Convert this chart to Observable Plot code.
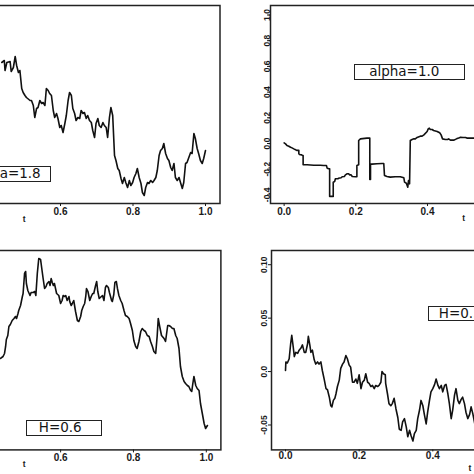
<!DOCTYPE html>
<html>
<head>
<meta charset="utf-8">
<script src="https://cdn.jsdelivr.net/npm/d3@7"></script>
<script src="https://cdn.jsdelivr.net/npm/@observablehq/plot@0.6"></script>
<style>
html, body { margin: 0; padding: 0; background: #fff; }
#wrap { position: relative; width: 474px; height: 474px; overflow: hidden; background: #fff; }
#wrap svg { position: absolute; max-width: none; }
.box { position: absolute; box-sizing: border-box; border: 1.5px solid #222; background: #fff;
       font-family: "DejaVu Sans", sans-serif; font-size: 13.5px; line-height: 1; color: #151515;
       white-space: nowrap; display: flex; align-items: center; }
</style>
</head>
<body>
<div id="wrap"></div>
<script>
// ---- Top-left: alpha = 1.8 (stable process, right part of the panel) ----
const tTL = [0.438,0.445,0.447,0.452,0.461,0.464,0.470,0.475,0.479,0.484,
  0.488,0.493,0.497,0.502,0.506,0.516,0.520,0.525,0.529,0.534,
  0.538,0.543,0.548,0.552,0.557,0.561,0.566,0.570,0.575,0.580,
  0.584,0.589,0.593,0.598,0.602,0.607,0.612,0.616,0.621,0.625,
  0.630,0.634,0.639,0.643,0.648,0.653,0.657,0.662,0.666,0.671,
  0.675,0.680,0.685,0.689,0.694,0.698,0.703,0.707,0.712,0.717,
  0.721,0.726,0.730,0.735,0.739,0.744,0.749,0.753,0.758,0.762,
  0.767,0.771,0.776,0.780,0.785,0.790,0.794,0.799,0.803,0.808,
  0.812,0.817,0.822,0.826,0.831,0.835,0.840,0.844,0.849,0.854,
  0.858,0.863,0.867,0.872,0.876,0.881,0.885,0.890,0.895,0.899,
  0.904,0.908,0.913,0.917,0.922,0.927,0.931,0.936,0.940,0.945,
  0.949,0.954,0.959,0.963,0.968,0.972,0.977,0.981,0.986,0.991,
  0.995,1.000];
const vTL = [-0.02,0.00,-0.10,-0.02,-0.01,-0.11,-0.07,0.04,-0.05,-0.12,
  -0.10,-0.28,-0.32,-0.35,-0.37,-0.40,-0.40,-0.45,-0.57,-0.48,
  -0.47,-0.40,-0.43,-0.42,-0.45,-0.28,-0.30,-0.33,-0.35,-0.50,
  -0.57,-0.53,-0.58,-0.67,-0.65,-0.72,-0.63,-0.55,-0.40,-0.32,
  -0.35,-0.48,-0.53,-0.60,-0.57,-0.58,-0.50,-0.53,-0.52,-0.58,
  -0.55,-0.60,-0.62,-0.70,-0.77,-0.63,-0.58,-0.65,-0.67,-0.62,
  -0.65,-0.67,-0.77,-0.57,-0.47,-0.55,-0.95,-1.00,-1.08,-1.10,
  -1.18,-1.23,-1.17,-1.22,-1.27,-1.20,-1.25,-1.22,-1.17,-1.13,
  -1.08,-1.17,-1.23,-1.32,-1.35,-1.27,-1.22,-1.23,-1.20,-1.22,
  -1.20,-1.17,-1.10,-0.95,-0.90,-0.88,-0.83,-0.93,-0.98,-1.00,
  -1.07,-1.10,-1.03,-1.17,-1.20,-1.17,-1.22,-1.28,-1.22,-1.03,
  -1.02,-0.97,-0.92,-0.93,-0.73,-0.78,-0.88,-0.93,-1.00,-1.03,
  -0.98,-0.90];

// ---- Top-right: alpha = 1.0 (jumpy, step-like path) ----
const tTR = [0.000,0.004,0.008,0.013,0.018,0.022,0.027,0.032,0.036,0.041,
  0.041,0.045,0.048,0.051,0.053,0.053,0.064,0.083,0.101,0.110,
  0.118,0.120,0.125,0.127,0.127,0.137,0.137,0.141,0.143,0.150,
  0.152,0.159,0.162,0.168,0.171,0.176,0.180,0.183,0.187,0.190,
  0.199,0.203,0.203,0.208,0.208,0.213,0.231,0.239,0.239,0.241,
  0.241,0.245,0.259,0.273,0.278,0.280,0.287,0.296,0.310,0.324,
  0.334,0.336,0.341,0.345,0.347,0.350,0.352,0.357,0.362,0.366,
  0.371,0.380,0.385,0.390,0.399,0.402,0.405,0.408,0.413,0.417,
  0.427,0.434,0.438,0.442,0.450,0.456,0.459,0.464,0.473,0.481,
  0.487,0.492,0.499,0.506,0.510,0.520,0.529,0.540];
const vTR = [0.005,-0.003,-0.016,-0.021,-0.029,-0.034,-0.042,-0.049,-0.054,-0.054,
  -0.080,-0.088,-0.088,-0.093,-0.093,-0.166,-0.166,-0.169,-0.169,-0.171,
  -0.171,-0.192,-0.197,-0.197,-0.412,-0.412,-0.301,-0.296,-0.275,-0.275,
  -0.270,-0.267,-0.259,-0.257,-0.244,-0.236,-0.236,-0.244,-0.244,-0.257,
  -0.259,-0.259,-0.171,-0.166,0.023,0.036,0.042,0.042,-0.280,-0.280,
  -0.161,-0.161,-0.158,-0.156,-0.156,-0.249,-0.257,-0.262,-0.259,-0.259,
  -0.267,-0.301,-0.309,-0.340,-0.288,-0.314,0.023,0.031,0.036,0.036,
  0.047,0.057,0.057,0.067,0.093,0.114,0.119,0.109,0.109,0.101,
  0.093,0.083,0.067,0.036,0.031,0.031,0.036,0.026,0.026,0.036,
  0.042,0.049,0.047,0.047,0.042,0.042,0.042,0.042];

// ---- Bottom-left: H = 0.6 (fractional Brownian motion, right part) ----
const tBL = [0.435,0.442,0.446,0.449,0.451,0.455,0.458,0.462,0.467,0.472,
  0.476,0.479,0.483,0.485,0.490,0.495,0.497,0.501,0.504,0.506,
  0.510,0.516,0.519,0.525,0.529,0.532,0.536,0.540,0.545,0.549,
  0.552,0.556,0.560,0.563,0.568,0.571,0.574,0.577,0.580,0.583,
  0.589,0.595,0.600,0.604,0.607,0.611,0.614,0.618,0.623,0.625,
  0.629,0.632,0.636,0.641,0.646,0.650,0.655,0.658,0.662,0.666,
  0.669,0.671,0.675,0.680,0.684,0.688,0.691,0.696,0.699,0.702,
  0.706,0.712,0.715,0.719,0.723,0.726,0.731,0.734,0.740,0.742,
  0.746,0.749,0.753,0.756,0.760,0.765,0.769,0.774,0.778,0.783,
  0.788,0.792,0.797,0.801,0.806,0.810,0.815,0.820,0.824,0.829,
  0.833,0.838,0.843,0.847,0.852,0.856,0.861,0.865,0.868,0.872,
  0.877,0.884,0.888,0.891,0.894,0.897,0.902,0.907,0.911,0.916,
  0.920,0.925,0.929,0.934,0.939,0.943,0.948,0.952,0.957,0.960,
  0.963,0.966,0.971,0.975,0.980,0.984,0.989,0.994,0.998,1.003];
const vBL = [0.12,0.14,0.17,0.24,0.31,0.35,0.44,0.46,0.50,0.52,
  0.54,0.52,0.57,0.60,0.65,0.74,0.77,0.97,0.99,0.87,
  0.80,0.75,0.78,0.78,0.79,0.75,0.97,1.12,1.11,1.00,
  0.92,0.82,0.84,0.87,0.89,0.85,0.92,0.88,0.85,0.87,
  0.77,0.75,0.67,0.70,0.75,0.74,0.75,0.70,0.74,0.69,
  0.65,0.67,0.70,0.59,0.50,0.49,0.54,0.60,0.64,0.67,
  0.74,0.82,0.79,0.70,0.74,0.77,0.77,0.85,0.89,0.79,
  0.72,0.74,0.75,0.70,0.83,0.85,0.83,0.78,0.70,0.69,
  0.76,0.88,0.89,0.82,0.75,0.70,0.67,0.60,0.55,0.54,
  0.52,0.47,0.40,0.30,0.24,0.22,0.29,0.39,0.42,0.40,
  0.39,0.35,0.34,0.29,0.24,0.19,0.17,0.34,0.52,0.44,
  0.35,0.32,0.29,0.37,0.45,0.45,0.44,0.42,0.42,0.35,
  0.32,0.22,0.04,-0.06,-0.11,-0.13,-0.15,-0.16,-0.20,-0.21,
  -0.13,-0.06,-0.15,-0.18,-0.20,-0.33,-0.43,-0.53,-0.58,-0.55];

// ---- Bottom-right: H = 0.? (left part of the panel) ----
const tBR = [0.000,0.001,0.005,0.010,0.014,0.017,0.021,0.024,0.028,0.033,
  0.037,0.042,0.046,0.051,0.055,0.060,0.062,0.066,0.069,0.073,
  0.078,0.082,0.087,0.091,0.096,0.100,0.105,0.110,0.114,0.119,
  0.123,0.126,0.130,0.134,0.137,0.141,0.146,0.150,0.155,0.159,
  0.164,0.168,0.173,0.177,0.182,0.186,0.191,0.195,0.200,0.205,
  0.209,0.214,0.218,0.223,0.227,0.232,0.236,0.241,0.245,0.250,
  0.254,0.259,0.262,0.266,0.271,0.272,0.277,0.281,0.286,0.290,
  0.295,0.300,0.305,0.309,0.314,0.318,0.323,0.328,0.332,0.337,
  0.341,0.346,0.350,0.355,0.359,0.364,0.368,0.373,0.377,0.382,
  0.386,0.391,0.395,0.400,0.405,0.409,0.414,0.418,0.423,0.427,
  0.432,0.436,0.441,0.445,0.450,0.454,0.459,0.463,0.468,0.472,
  0.477,0.481,0.486,0.490,0.495,0.500,0.504,0.509,0.514];
const vBR = [0.001,0.009,0.008,0.012,0.026,0.034,0.023,0.014,0.018,0.017,
  0.020,0.022,0.025,0.018,0.018,0.026,0.033,0.025,0.018,0.020,
  0.011,0.007,0.009,0.007,0.009,0.001,-0.007,-0.016,-0.017,-0.024,
  -0.032,-0.033,-0.027,-0.025,-0.021,-0.014,-0.008,0.003,0.007,0.009,
  0.015,0.012,0.006,0.004,-0.010,-0.010,-0.007,-0.011,-0.003,-0.016,
  -0.010,-0.008,-0.002,-0.010,-0.011,-0.014,-0.013,-0.016,-0.013,-0.014,
  -0.013,-0.010,0.000,-0.002,-0.003,-0.011,-0.021,-0.030,-0.032,-0.030,
  -0.025,-0.035,-0.043,-0.054,-0.055,-0.047,-0.044,-0.052,-0.061,-0.055,
  -0.060,-0.065,-0.058,-0.055,-0.044,-0.036,-0.027,-0.032,-0.040,-0.049,
  -0.038,-0.027,-0.019,-0.016,-0.012,-0.007,-0.013,-0.016,-0.013,-0.019,
  -0.013,-0.012,-0.021,-0.030,-0.044,-0.036,-0.022,-0.016,-0.027,-0.030,
  -0.026,-0.024,-0.030,-0.038,-0.044,-0.040,-0.033,-0.040,-0.049];

// tick values and labels
const xTicksTL = [0.6, 0.8, 1.0];
const xTicksTR = [0.0, 0.2, 0.4];
const yTicksTR = [-0.4, -0.2, 0.0, 0.2, 0.4, 0.6, 0.8, 1.0];
const xTicksBL = [0.6, 0.8, 1.0];
const xTicksBR = [0.0, 0.2, 0.4];
const yTicksBR = [-0.05, 0.0, 0.05, 0.10];
const labels = {TL: "alpha=1.8", TR: "alpha=1.0", BL: "H=0.6", BR: "H=0.3"};
const axisTitle = "t";

const ML = 40, MR = 10, MT = 10, MB = 35;
const wrap = document.getElementById("wrap");

function panel(c) {
  const data = c.t.map((t, i) => ({t, v: c.v[i]}));
  const marks = [
    Plot.line(data, {x: "t", y: "v", stroke: "#111", strokeWidth: 1.6, strokeLinejoin: "round"}),
    Plot.frame({stroke: "#222", strokeWidth: 1.5}),
    Plot.axisX(c.xTicks, {anchor: "bottom", tickSize: c.xTickSize, tickPadding: c.xTickPad,
      tickFormat: d => d.toFixed(1), fontSize: 10, fontWeight: "bold", label: null}),
    Plot.text([axisTitle], {frameAnchor: "bottom", dy: c.tDy, fontSize: 8.5, fontWeight: "bold"})
  ];
  if (c.yTicks) {
    marks.push(Plot.axisY(c.yTicks, {anchor: "left", tickSize: 3, tickPadding: c.yTickPad, tickRotate: -90,
      tickFormat: c.yFormat, fontSize: 8.5, fontWeight: "bold", label: null}));
  }
  const svg = Plot.plot({
    width: ML + c.frameW + MR,
    height: MT + c.frameH + MB,
    marginLeft: ML, marginRight: MR, marginTop: MT, marginBottom: MB,
    x: {domain: c.xDomain},
    y: c.yTicks ? {domain: c.yDomain} : {domain: c.yDomain, axis: null},
    style: {fontFamily: "'Liberation Sans', Arial, sans-serif", color: "#1a1a1a", background: "transparent", maxWidth: "none"},
    marks
  });
  svg.style.left = (c.frameLeft - ML) + "px";
  svg.style.top = (c.frameTop - MT) + "px";
  wrap.appendChild(svg);
}

panel({t: tTL, v: vTL, xDomain: [-0.04, 1.04], yDomain: [-1.43, 0.55], xTicks: xTicksTL,
  frameLeft: -172, frameTop: 5, frameW: 391.5, frameH: 198, xTickSize: 3, xTickPad: 1, tDy: 18});
panel({t: tTR, v: vTR, xDomain: [-0.038, 1.04], yDomain: [-0.467, 1.074], xTicks: xTicksTR,
  yTicks: yTicksTR, yFormat: d => d.toFixed(1), yTickPad: -2,
  frameLeft: 270, frameTop: 5, frameW: 386.4, frameH: 198, xTickSize: 3, xTickPad: 1, tDy: 18});
panel({t: tBL, v: vBL, xDomain: [-0.04, 1.04], yDomain: [-0.794, 1.2], xTicks: xTicksBL,
  frameLeft: -173.1, frameTop: 250.3, frameW: 393.4, frameH: 199.4, xTickSize: 3, xTickPad: 1, tDy: 17.5});
panel({t: tBR, v: vBR, xDomain: [-0.038, 1.04], yDomain: [-0.0733, 0.1133], xTicks: xTicksBR,
  yTicks: yTicksBR, yFormat: d => (d === 0 ? "0.0" : d.toFixed(2)), yTickPad: 1.5,
  frameLeft: 270.5, frameTop: 250.3, frameW: 397, frameH: 199.4, xTickSize: 2, xTickPad: 0, tDy: 21});

function box(text, left, top, width, height, padLeft) {
  const b = document.createElement("div");
  b.className = "box";
  b.style.left = left + "px";
  b.style.top = top + "px";
  b.style.width = width + "px";
  b.style.height = height + "px";
  b.style.paddingLeft = padLeft + "px";
  b.textContent = text;
  wrap.appendChild(b);
}
box(labels.TL, -70, 165.7, 121, 16, 39.5);
box(labels.TR, 354.3, 64.3, 110.7, 15.7, 13.9);
box(labels.BL, 25.7, 420.3, 76.3, 15.7, 12.1);
box(labels.BR, 428, 306.3, 110, 15, 9.8);
</script>
</body>
</html>
